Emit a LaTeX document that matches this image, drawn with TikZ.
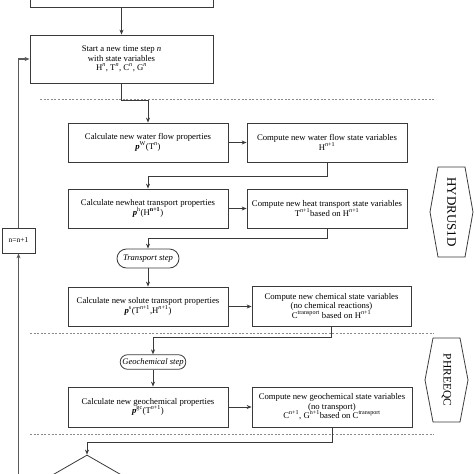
\documentclass[tikz,border=0pt]{standalone}
\usepackage{fontspec}
\setmainfont{Liberation Serif}
\usetikzlibrary{arrows.meta,shapes.geometric,shapes.misc}
\definecolor{linec}{HTML}{3A3A3A}
\definecolor{loopc}{HTML}{5A5A5A}
\definecolor{dashc}{HTML}{8A8A8A}
\begin{document}
\begin{tikzpicture}[x=1pt,y=-1pt,
  box/.style={draw=linec, line width=0.8pt, inner sep=1pt, align=center,
    font=\fontsize{8.7}{9.4}\selectfont, text=black},
  stepnode/.style={draw=linec, line width=0.8pt, rounded rectangle, inner xsep=1pt,
    inner ysep=0pt, font=\fontsize{8.6}{9}\selectfont\itshape},
  flow/.style={draw=linec, line width=0.8pt, -{Stealth[length=5pt,width=4pt]}},
  loopline/.style={draw=loopc, line width=1.4pt, -{Stealth[length=5pt,width=4pt]}},
  plain/.style={draw=linec, line width=0.8pt},
  sepline/.style={draw=dashc, line width=0.9pt, dash pattern=on 2pt off 1.6pt},
  hexlabel/.style={rotate=-90, inner sep=0pt, text=black}
]
\useasboundingbox (0,0) rectangle (474,474);
\clip (0,0) rectangle (474,474);
\lineskiplimit=-20pt

% boxes
\node[box, minimum width=183pt, minimum height=30pt] (top) at (121.5,-8) {};
\node[box, minimum width=183pt, minimum height=48pt] (start) at (121.5,59)
  {Start a new time step \textit{n}\\with state variables\\H\textsuperscript{\textit{n}}, T\textsuperscript{\textit{n}}, C\textsuperscript{\textit{n}}, G\textsuperscript{\textit{n}}};
\node[box, minimum width=160pt, minimum height=39pt] (wcalc) at (148,142.5)
  {Calculate new water flow properties\\\textbf{\textit{p}}\textsuperscript{W}(T\textsuperscript{\textit{n}})};
\node[box, minimum width=160pt, minimum height=39pt] (wcomp) at (327,142.5)
  {Compute new water flow state variables\\H\textsuperscript{\textit{n}+1}};
\node[box, minimum width=160pt, minimum height=39pt] (hcalc) at (148,208.5)
  {Calculate newheat transport properties\\\textbf{\textit{p}}\textsuperscript{h}(H\textsuperscript{\textbf{n+1}})};
\node[box, minimum width=160pt, minimum height=39pt] (hcomp) at (327,208.5)
  {Compute new heat transport state variables\\T\textsuperscript{\textit{n}+1}based on H\textsuperscript{\textit{n}+1}};
\node[stepnode, minimum width=64pt, minimum height=19pt] (tstep) at (148,258.5) {Transport step};
\node[box, minimum width=160pt, minimum height=39pt] (scalc) at (148,306.5)
  {Calculate new solute transport properties\\\textbf{\textit{p}}\textsuperscript{s}(T\textsuperscript{\textit{n}+1},H\textsuperscript{\textit{n}+1})};
\node[box, minimum width=159pt, minimum height=40pt] (ccomp) at (331.5,306)
  {Compute new chemical state variables\\(no chemical reactions)\\C\textsuperscript{transport} based on H\textsuperscript{\textit{n}+1}};
\node[stepnode, minimum width=62pt, minimum height=14.5pt] (gstep) at (153,362) {Geochemical step};
\node[box, minimum width=160pt, minimum height=40pt] (gcalc) at (148,407)
  {Calculate new geochemical properties\\\textbf{\textit{p}}\textsuperscript{gc}(T\textsuperscript{\textit{n}+1})};
\node[box, minimum width=160pt, minimum height=40pt] (gcomp) at (332,407)
  {Compute new geochemical state variables\\(no transport)\\C\textsuperscript{n+1}, G\textsuperscript{n+1}based on C\textsuperscript{transport}};
\node[box, minimum width=33pt, minimum height=25pt, font=\fontsize{7.5}{8}\selectfont] (inc) at (18.5,240.5) {n=n+1};
\node[draw=linec, line width=0.8pt, diamond, aspect=1.74, minimum width=139pt, minimum height=80pt, inner sep=0pt] (dec) at (87,495) {};

% hexagon labels
\node[hexlabel, font=\fontsize{13}{13}\selectfont] (hyd) at (451.5,212) {HYDRUS1D};
\draw[plain] (430,212) -- (438,167) -- (465,167) -- (473,212) -- (465,257) -- (438,257) -- cycle;
\node[hexlabel, font=\fontsize{11.5}{11.5}\selectfont] (phr) at (446.5,380) {PHREEQC};
\draw[plain] (425,380) -- (433,338) -- (460,338) -- (468,380) -- (460,422) -- (433,422) -- cycle;

% separators
\coordinate (d1a) at (40,99);  \coordinate (d1b) at (436,99);
\coordinate (d2a) at (30,333); \coordinate (d2b) at (434,333);
\coordinate (d3a) at (30,434); \coordinate (d3b) at (434,434);
\draw[sepline] (d1a) -- (d1b);
\draw[sepline] (d2a) -- (d2b);
\draw[sepline] (d3a) -- (d3b);

% junction levels
\coordinate (j1) at (0,100);
\coordinate (j2) at (0,176);
\coordinate (j3) at (0,238);
\coordinate (j4) at (0,337);
\coordinate (j5) at (0,442);

% connectors
\draw[flow] (top.south) -- (start.north);
\draw[flow] (start.south) -- (start.south |- j1) -| (wcalc.north);
\draw[flow] (wcalc.east) -- (wcomp.west);
\draw[flow] (wcomp.south) -- (wcomp.south |- j2) -| (hcalc.north);
\draw[flow] (hcalc.east) -- (hcomp.west);
\draw[flow] (hcomp.south) -- (hcomp.south |- j3) -| (tstep.north);
\draw[flow] (tstep.south) -- (scalc.north);
\draw[flow] (scalc.east) -- (scalc.east -| ccomp.west);
\draw[flow] (ccomp.south) -- (ccomp.south |- j4) -| (gstep.north);
\draw[flow] (gstep.south) -- (gstep.south |- gcalc.north);
\draw[flow] (gcalc.east) -- (gcomp.west);
\draw[flow] (gcomp.south) -- (gcomp.south |- j5) -| (dec.north);

% loop
\coordinate (lb) at (18.5,480);
\draw[loopline] (lb) -- (inc.south);
\draw[loopline] (inc.north) |- (start.west);
\end{tikzpicture}
\end{document}
